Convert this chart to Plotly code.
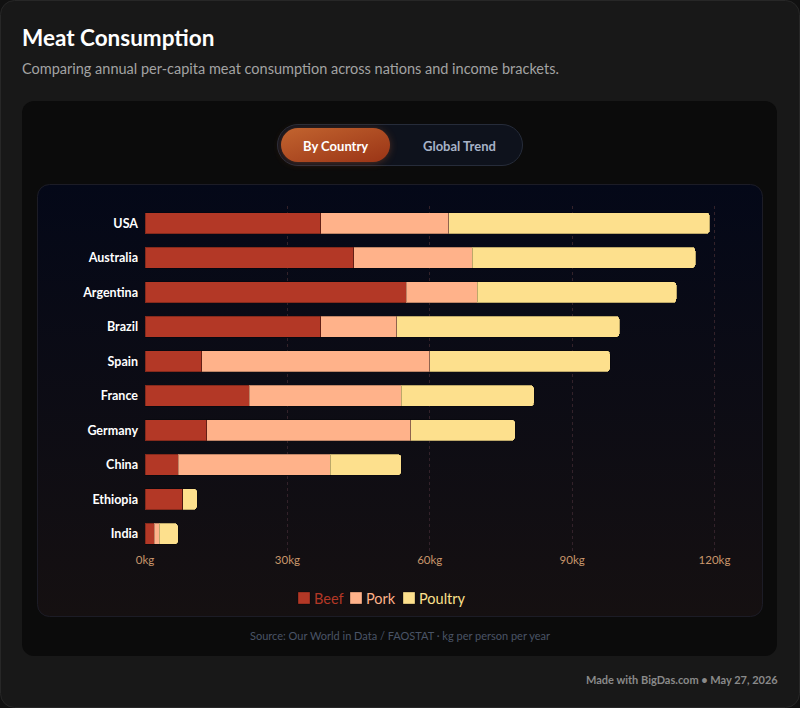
import base64
import plotly.graph_objects as go

# ---- data ----
countries = ["USA", "Australia", "Argentina", "Brazil", "Spain",
             "France", "Germany", "China", "Ethiopia", "India"]
beef = [37, 44, 55, 37, 12, 22, 13, 7, 8, 2]
pork = [27, 25, 15, 16, 48, 32, 43, 32, 0, 1]
poultry = [55, 47, 42, 47, 38, 28, 22, 15, 3, 4]
series_names = ["Beef", "Pork", "Poultry"]
series_colors = ["#b33826", "#ffb28a", "#fde08d"]
x_ticks = [0, 30, 60, 90, 120]
x_tick_labels = ["0kg", "30kg", "60kg", "90kg", "120kg"]

W, H = 800, 708
ML, MR, MT, MB = 145, 57, 206, 157
PW, PH = W - ML - MR, H - MT - MB
FONT = "Lato"


def px(x):
    return (x - ML) / PW


def py(y):
    return (H - MB - y) / PH


# ---- decorative background (panels, toggle) as an SVG image ----
svg = f"""<svg xmlns='http://www.w3.org/2000/svg' width='{W}' height='{H}' viewBox='0 0 {W} {H}'>
<defs>
<linearGradient id='cg' x1='0' y1='0' x2='0' y2='1'>
<stop offset='0' stop-color='#040818'/><stop offset='1' stop-color='#151011'/>
</linearGradient>
<linearGradient id='bg' x1='0' y1='0' x2='1' y2='1'>
<stop offset='0' stop-color='#c2642f'/><stop offset='1' stop-color='#9a3416'/>
</linearGradient>
<filter id='glow' x='-30%' y='-60%' width='160%' height='220%'>
<feGaussianBlur stdDeviation='5'/>
</filter>
</defs>
<rect x='0.5' y='0.5' width='{W-1}' height='{H-1}' rx='14' fill='#181818' stroke='#272727'/>
<rect x='22' y='101' width='755' height='555' rx='12' fill='#0b0b0b'/>
<rect x='37.5' y='184.5' width='725' height='432' rx='12' fill='url(#cg)' stroke='#1c1c26'/>
<rect x='277.5' y='124.5' width='245' height='41' rx='20.5' fill='#0e121c' stroke='#262c3a'/>
<rect x='283' y='131' width='105' height='30' rx='15' fill='#d2642a' opacity='0.55' filter='url(#glow)'/>
<rect x='281' y='128' width='109' height='34' rx='17' fill='url(#bg)'/>
</svg>"""
svg_uri = "data:image/svg+xml;base64," + base64.b64encode(svg.encode()).decode()

fig = go.Figure()
for name, vals, col in zip(series_names, [beef, pork, poultry], series_colors):
    fig.add_trace(go.Bar(
        y=countries, x=vals, name=name, orientation="h",
        marker=dict(color=col, line=dict(color="rgba(0,0,0,0.25)", width=1)),
        showlegend=False, hoverinfo="x+y+name",
    ))

annotations = [
    dict(text="<b>Meat Consumption</b>", x=px(20), y=py(38), xanchor="left", yanchor="middle",
         font=dict(family=FONT, size=22.5, color="#ffffff")),
    dict(text="Comparing annual per-capita meat consumption across nations and income brackets.",
         x=px(20), y=py(69), xanchor="left", yanchor="middle",
         font=dict(family=FONT, size=14.5, color="#a3a3a3")),
    dict(text="<b>By Country</b>", x=px(335.5), y=py(145.5), xanchor="center", yanchor="middle",
         font=dict(family=FONT, size=13, color="#ffffff")),
    dict(text="<b>Global Trend</b>", x=px(459.5), y=py(145.5), xanchor="center", yanchor="middle",
         font=dict(family=FONT, size=13, color="#a7b3c7")),
    dict(text="Source: Our World in Data / FAOSTAT · kg per person per year",
         x=px(400), y=py(635), xanchor="center", yanchor="middle",
         font=dict(family=FONT, size=11, color="#4a5466")),
    dict(text="<b>Made with BigDas.com • May 27, 2026</b>", x=px(780), y=py(679),
         xanchor="right", yanchor="middle",
         font=dict(family=FONT, size=11, color="#8a8a8a")),
]

# custom legend
shapes = []
legend_sq_x = [298, 350, 403]
for name, col, sx in zip(series_names, series_colors, legend_sq_x):
    shapes.append(dict(type="rect", xref="paper", yref="paper",
                       x0=px(sx), x1=px(sx + 12), y0=py(604), y1=py(592),
                       fillcolor=col, line=dict(color="rgba(0,0,0,0.3)", width=1)))
    annotations.append(dict(text=name, x=px(sx + 14), y=py(598), xanchor="left", yanchor="middle",
                            font=dict(family=FONT, size=14.5, color=col)))

for a in annotations:
    a.update(xref="paper", yref="paper", showarrow=False)

fig.update_layout(
    width=W, height=H,
    margin=dict(l=ML, r=MR, t=MT, b=MB, pad=0),
    paper_bgcolor="#111111", plot_bgcolor="rgba(0,0,0,0)",
    barmode="stack", bargap=0.38, barcornerradius=4,
    font=dict(family=FONT),
    images=[dict(source=svg_uri, xref="paper", yref="paper",
                 x=px(0), y=py(0), sizex=W / PW, sizey=H / PH,
                 xanchor="left", yanchor="top", sizing="stretch", layer="below")],
    annotations=annotations, shapes=shapes,
    showlegend=False,
    xaxis=dict(range=[0, 126], tickvals=x_ticks, ticktext=x_tick_labels,
               showgrid=True, gridcolor="#33222a", griddash="dot", gridwidth=1,
               zeroline=False, showline=False, ticks="",
               tickfont=dict(family=FONT, size=11.5, color="#c9966b")),
    yaxis=dict(categoryorder="array", categoryarray=countries, autorange="reversed",
               showgrid=False, zeroline=False, showline=False, ticks="",
               ticklabelstandoff=6,
               tickfont=dict(family=FONT, size=12.5, color="#ffffff", weight="bold")),
)

fig.write_html("out.html")
